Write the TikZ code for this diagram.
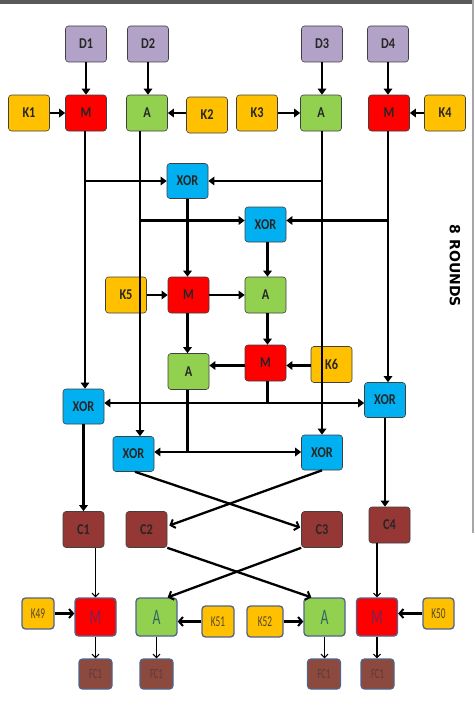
\documentclass[tikz,border=0pt]{standalone}
\usepackage{fontspec}
\setmainfont{Carlito}
\newfontfamily\labfont[FakeStretch=0.82]{Carlito}
\newfontfamily\botfont[FakeStretch=0.62]{Carlito}
\newfontfamily\roundfont{DejaVu Sans}
\usetikzlibrary{arrows.meta,calc}
\definecolor{dcol}{RGB}{179,162,199}
\definecolor{kcol}{RGB}{255,192,0}
\definecolor{mcol}{RGB}{255,0,0}
\definecolor{acol}{RGB}{146,208,80}
\definecolor{xcol}{RGB}{0,176,240}
\definecolor{ccol}{RGB}{149,55,53}
\definecolor{fccol}{RGB}{140,74,62}
\definecolor{bordblue}{RGB}{80,100,140}
\definecolor{mtext}{RGB}{120,35,90}
\definecolor{atext}{RGB}{50,100,100}
\definecolor{ktext}{RGB}{80,70,50}
\definecolor{fctext}{RGB}{95,55,60}
\begin{document}
\begin{tikzpicture}[x=1pt,y=-1pt,
  box/.style={draw=black!75, line width=0.6pt, rounded corners=3pt,
    minimum width=41pt, minimum height=36pt, inner sep=0pt,
    font=\labfont\bfseries\fontsize{15}{15}\selectfont, text=black!85},
  dbox/.style={box, fill=dcol},
  kbox/.style={box, fill=kcol},
  mbox/.style={box, fill=mcol},
  abox/.style={box, fill=acol},
  xbox/.style={box, fill=xcol, minimum height=35pt},
  cbox/.style={box, fill=ccol},
  bbox/.style={draw=bordblue, line width=1.3pt, rounded corners=3.5pt, inner sep=0pt,
    font=\botfont\fontsize{15}{15}\selectfont},
  bk/.style={bbox, fill=kcol, minimum width=32pt, minimum height=31pt, text=ktext},
  bm/.style={bbox, fill=mcol, minimum width=41pt, minimum height=38pt, text=mtext,
    font=\botfont\fontsize{22}{22}\selectfont},
  ba/.style={bbox, fill=acol, minimum width=41pt, minimum height=38pt, text=atext,
    font=\botfont\fontsize{22}{22}\selectfont},
  bfc/.style={bbox, fill=fccol, minimum width=33pt, minimum height=30pt, text=fctext,
    font=\botfont\fontsize{14}{14}\selectfont},
  thk/.style={line width=2.3pt, -{Triangle[length=6pt,width=8.5pt]}},
  thkline/.style={line width=2.3pt},
  barb/.style={line width=2.3pt, -{Straight Barb[length=4pt,width=9pt,line width=2pt]}},
  thin/.style={line width=1.1pt, -{Straight Barb[length=3.5pt,width=7pt,line width=1.1pt]}}
]
\useasboundingbox (0,0) rectangle (474,717);
\fill[white] (0,0) rectangle (474,717);
% frame pieces
\fill[black!65] (0,0) rectangle (474,4);
\fill[black!35] (471.5,0) rectangle (474,533);

% top inputs
\node[dbox] (D1) at (86,44) {D1};
\node[dbox] (D2) at (148,44) {D2};
\node[dbox] (D3) at (322,44) {D3};
\node[dbox] (D4) at (388,44) {D4};
% first row
\node[kbox] (K1) at (29,113) {K1};
\node[mbox] (M1) at (86,113) {M};
\node[abox] (A1) at (147,113) {A};
\node[kbox] (K2) at (207,115) {K2};
\node[kbox] (K3) at (257,113) {K3};
\node[abox] (A2) at (321,113) {A};
\node[mbox] (M2) at (389,113) {M};
\node[kbox] (K4) at (445,113) {K4};
% xor
\node[xbox] (X1) at (187.5,181) {XOR};
\node[xbox] (X2) at (265.5,224.5) {XOR};
% middle
\node[kbox] (K5) at (126,295) {K5};
\node[mbox] (M3) at (188.5,295) {M};
\node[abox] (A3) at (265.5,295) {A};
\node[abox] (A4) at (188.5,371.5) {A};
\node[mbox] (M4) at (265.5,363) {M};
\node[kbox] (K6) at (331.5,364.5) {K6};
\node[xbox] (X3) at (83.5,406.5) {XOR};
\node[xbox] (X4) at (385,400) {XOR};
\node[xbox] (X5) at (133.5,454) {XOR};
\node[xbox] (X6) at (322,452.5) {XOR};
% outputs
\node[cbox] (C1) at (83.5,529.5) {C1};
\node[cbox] (C2) at (146.5,529.5) {C2};
\node[cbox] (C3) at (322,529.5) {C3};
\node[cbox] (C4) at (389.5,525) {C4};
% bottom row
\node[bk] (K49) at (38,613.5) {K49};
\node[bm] (M5) at (95.5,617) {M};
\node[ba] (A5) at (156.5,617) {A};
\node[bk] (K51) at (218,621.5) {K51};
\node[bk, minimum width=36pt] (K52) at (265,621.5) {K52};
\node[ba] (A6) at (324.5,617) {A};
\node[bm] (M6) at (377,617) {M};
\node[bk, minimum width=31pt] (K50) at (438.5,613.5) {K50};
\node[bfc] (F1) at (95.5,674) {FC1};
\node[bfc] (F2) at (156.5,674) {FC1};
\node[bfc] (F3) at (324,674) {FC1};
\node[bfc] (F4) at (377.5,674) {FC1};

\node[font=\roundfont\bfseries\fontsize{14}{14}\selectfont, rotate=-90] (R) at (455,266) {8 ROUNDS};

% top connectors
\draw[thk] (D1.south) -- (M1.north);
\draw[thk] (D2.south) -- (D2.south |- A1.north);
\draw[thk] (D3.south) -- (D3.south |- A2.north);
\draw[thk] (D4.south) -- (D4.south |- M2.north);
\draw[thk] (K1.east) -- (M1.west);
\draw[thk] (K2.west |- A1.east) -- (A1.east);
\draw[thk] (K3.east) -- (A2.west);
\draw[thk] (K4.west) -- (M2.east);

% helper coordinates
\coordinate (m1b) at ([xshift=-1pt]M1.south);
\coordinate (a1b) at ([xshift=-7pt]A1.south);
\coordinate (a2b) at ([xshift=1pt]A2.south);
\coordinate (m2b) at ([xshift=-1pt]M2.south);
\coordinate (x2w) at ([yshift=4pt]X2.west);
\coordinate (x2e) at ([yshift=4pt]X2.east);
\coordinate (x2s) at ([xshift=2pt]X2.south);
\coordinate (a3n) at ([xshift=2pt]A3.north);
\coordinate (a3s) at ([xshift=2pt]A3.south);
\coordinate (m4n) at ([xshift=2pt]M4.north);
\coordinate (m4w) at ([yshift=-2.5pt]M4.west);
\coordinate (m4e) at ([yshift=-2.5pt]M4.east);
\coordinate (m4s) at ([xshift=2pt]M4.south);
\coordinate (m3s) at ([xshift=-1pt]M3.south);
\coordinate (a4n) at ([xshift=-1pt]A4.north);
\coordinate (a4s) at ([xshift=-1pt]A4.south);
\coordinate (lev1) at (0,403);
\coordinate (lev2) at (0,452);
\coordinate (j1) at (m4s |- lev1);
\coordinate (j2) at (a4s |- lev2);

% long verticals
\draw[thk] (m1b) -- (m1b |- X3.north);
\draw[thk] (a1b) -- (a1b |- X5.north);
\draw[thk] (a2b) -- (a2b |- X6.north);
\draw[thk] (m2b) -- (m2b |- X4.north);
% branches into the two XORs
\draw[thk] (m1b |- X1.west) -- (X1.west);
\draw[thk] (a2b |- X1.east) -- (X1.east);
\draw[thk] (a1b |- x2w) -- (x2w);
\draw[thk] (m2b |- x2e) -- (x2e);

% middle section
\draw[thk] (X1.south) -- (X1.south |- M3.north);
\draw[thk] (x2s) -- (a3n);
\draw[thk] (K5.east) -- (M3.west);
\draw[thk] (M3.east) -- (A3.west);
\draw[thk] (m3s) -- (a4n);
\draw[thk] (a3s) -- (m4n);
\draw[thk] (K6.west |- m4e) -- (m4e);
\draw[thk] (m4w) -- (m4w -| A4.east);

% M4 splits to outer XORs
\draw[thkline] (m4s) -- (j1);
\draw[thk] (j1) -- (j1 -| X3.east);
\draw[thk] (j1) -- (j1 -| X4.west);
% A4 splits to inner XORs
\draw[thkline] (a4s) -- (j2);
\draw[thk] (j2) -- (j2 -| X5.east);
\draw[thk] (j2) -- (j2 -| X6.west);

% to outputs
\coordinate (x5s) at ([xshift=1.5pt]X5.south);
\coordinate (c3w) at ([xshift=-1pt,yshift=2pt]C3.west);
\coordinate (c2e) at ([xshift=2pt,yshift=4pt]C2.east);
\draw[thk] (X3.south) -- (X3.south |- C1.north);
\draw[thk] (X4.south) -- (X4.south |- C4.north);
\draw[barb] (x5s) -- (c3w);
\draw[barb] (X6.south) -- (c2e);

% bottom section
\coordinate (c1s) at (C1.south -| M5.north);
\coordinate (c4s) at (C4.south -| M6.north);
\coordinate (a6t) at ([xshift=8pt]A6.north west);
\coordinate (a5t) at ([xshift=-10pt]A5.north east);
\draw[thin] (c1s) -- (M5.north);
\draw[thin] (c4s) -- (M6.north);
\draw[barb] (C2.south east) -- (a6t);
\draw[barb] (C3.south west) -- (a5t);
\draw[barb] (K49.east) -- (K49.east -| M5.west);
\draw[barb] (K51.west) -- (K51.west -| A5.east);
\draw[barb] (K52.east) -- (K52.east -| A6.west);
\draw[barb] (K50.west) -- (K50.west -| M6.east);
\draw[thin] (M5.south) -- (F1.north);
\draw[thin] (A5.south) -- (F2.north);
\draw[thin] (A6.south) -- (A6.south |- F3.north);
\draw[thin] (M6.south) -- (M6.south |- F4.north);
\end{tikzpicture}
\end{document}
